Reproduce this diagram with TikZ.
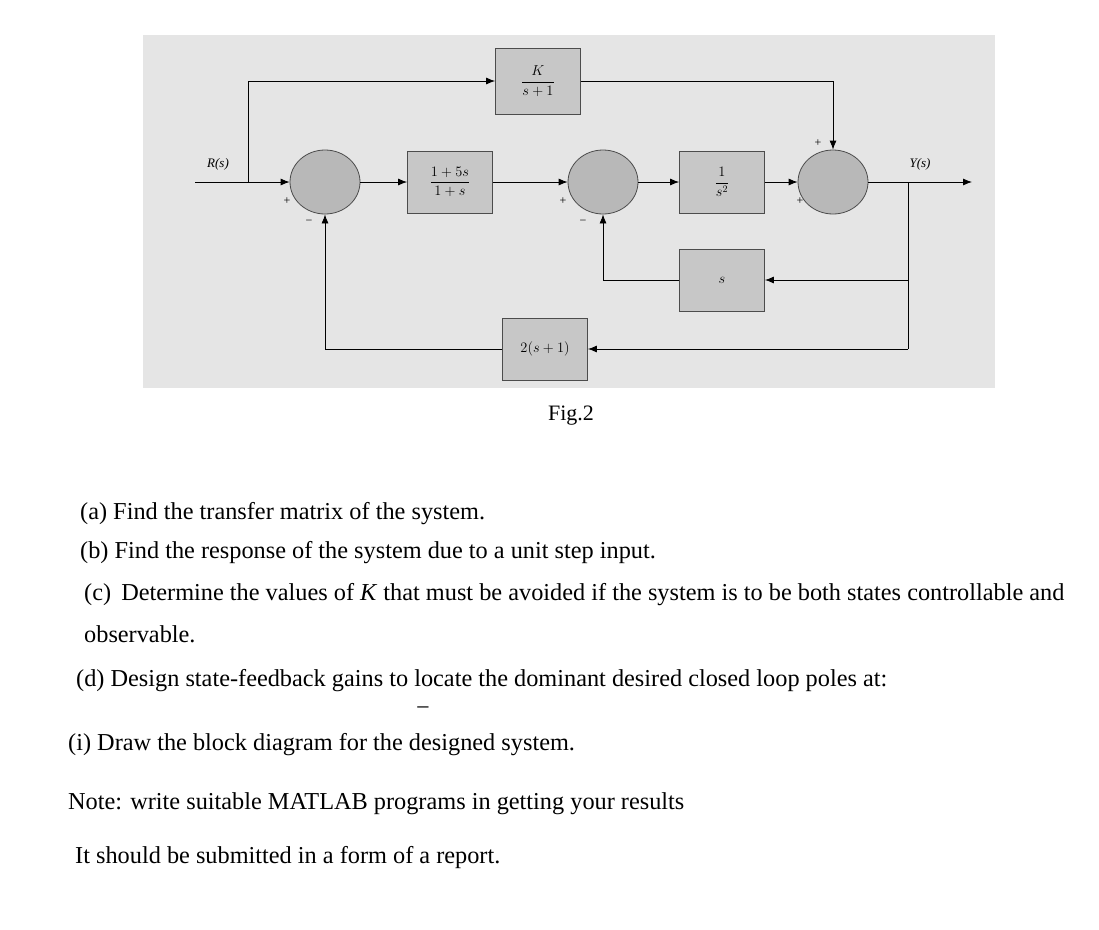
\documentclass[tikz,border=0pt]{standalone}
\usepackage{fontspec}
\setmainfont{Liberation Serif}
\usetikzlibrary{shapes.geometric,arrows.meta}
\begin{document}
\begin{tikzpicture}[x=1pt,y=-1pt,
  blk/.style={draw=black!70,fill=black!22,line width=0.8pt,minimum width=85pt,minimum height=62pt,inner sep=0pt,font=\fontsize{14}{15}\selectfont},
  sum/.style={draw=black!70,fill=black!28,ellipse,line width=0.8pt,minimum width=70pt,minimum height=64pt,inner sep=0pt},
  ar/.style={-{Latex[length=9pt,width=7pt]},line width=0.8pt},
  ln/.style={line width=0.8pt},
  sg/.style={font=\fontsize{12}{12}\selectfont,inner sep=0pt},
  lab/.style={font=\fontsize{13}{14}\selectfont\itshape,inner sep=0pt},
  txt/.style={anchor=west,inner sep=0pt,font=\fontsize{24.3}{26}\selectfont}]
\useasboundingbox (0,0) rectangle (1099,929);
\fill[black!10] (143,35) rectangle (995,388);
\node[sum] (s1) at (325,182) {};
\node[sum] (s2) at (603,182) {};
\node[sum] (s3) at (833,182) {};
\node[blk] (g1) at (450,182) {$\displaystyle\frac{1+5s}{1+s}$};
\node[blk] (g2) at (722,182) {$\displaystyle\frac{1}{s^2}$};
\node[blk,minimum height=66pt] (gk) at (538,81) {$\displaystyle\frac{K}{s+1}$};
\node[blk] (gs) at (722,280) {$s$};
\node[blk] (gf) at (545,349) {$2(s+1)$};
\coordinate (in) at (195,182);
\coordinate (b1) at (248,182);
\coordinate (b1u) at (248,81);
\coordinate (k3) at (833,81);
\coordinate (bo) at (908,182);
\coordinate (out) at (972,182);
\coordinate (bs) at (908,280);
\coordinate (bf) at (908,349);
\coordinate (s2d) at (603,280);
\coordinate (s1d) at (325,349);
\draw[ln] (in) -- (b1);
\draw[ar] (b1) -- (s1);
\draw[ln] (b1) -- (b1u);
\draw[ar] (b1u) -- (gk);
\draw[ln] (gk) -- (k3);
\draw[ar] (k3) -- (s3);
\draw[ar] (s1) -- (g1);
\draw[ar] (g1) -- (s2);
\draw[ar] (s2) -- (g2);
\draw[ar] (g2) -- (s3);
\draw[ar] (s3) -- (out);
\draw[ln] (bo) -- (bf);
\draw[ar] (bs) -- (gs);
\draw[ar] (bf) -- (gf);
\draw[ln] (gs.west) -- (s2d);
\draw[ar] (s2d) -- (s2);
\draw[ln] (gf.west) -- (s1d);
\draw[ar] (s1d) -- (s1);
\node[sg] at (287,201) {+};
\node[sg] at (309,222) {\textminus};
\node[sg] at (563,201) {+};
\node[sg] at (583,222) {\textminus};
\node[sg] at (818,143) {+};
\node[sg] at (800,201) {+};
\node[lab] at (218,164) {R(s)};
\node[lab] at (920,164) {Y(s)};
\node[inner sep=0pt,font=\fontsize{22}{24}\selectfont] (fig) at (571,416) {Fig.2};
\node[txt] (ta) at (80,514) {(a) Find the transfer matrix of the system.};
\node[txt] (tb) at (80,553) {(b) Find the response of the system due to a unit step input.};
\node[txt] (tc) at (84,595) {(c)\, Determine the values of \textit{K} that must be avoided if the system is to be both states controllable and};
\node[txt] (tc2) at (84,634) {observable.};
\node[txt] (td) at (76,681) {(d) Design state-feedback gains to locate the dominant desired closed loop poles at:};
\node[txt] (tdash) at (416,711) {\textminus};
\node[txt] (ti) at (68,745) {(i) Draw the block diagram for the designed system.};
\node[txt] (tn) at (68,804) {Note: write suitable MATLAB programs in getting your results};
\node[txt] (tt) at (75,858) {It should be submitted in a form of a report.};
\end{tikzpicture}
\end{document}
